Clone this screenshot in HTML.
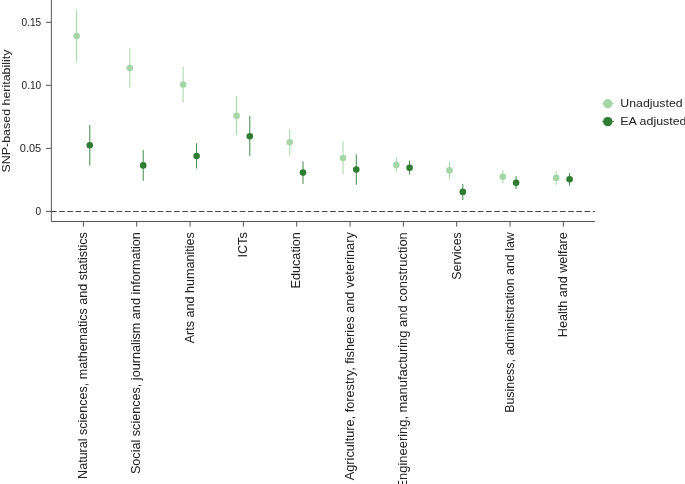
<!DOCTYPE html><html><head><meta charset="utf-8"><title>SNP-based heritability</title>
<style>html,body{margin:0;padding:0;background:#fff;overflow:hidden}svg{display:block}text{font-family:"Liberation Sans",Arial,sans-serif;fill:#222222}</style></head><body>
<svg width="685" height="484" viewBox="0 0 685 484">
<rect width="685" height="484" fill="#fff"/>
<g stroke="#555555" stroke-width="1" fill="none">
<path d="M51.35 0V221.5H594.9" stroke-linejoin="miter"/>
<path d="M46 22.3H51.4"/>
<path d="M46 85.3H51.4"/>
<path d="M46 148.4H51.4"/>
<path d="M46 211.4H51.4"/>
<path d="M83.40 221.5V226.6"/>
<path d="M136.73 221.5V226.6"/>
<path d="M190.06 221.5V226.6"/>
<path d="M243.39 221.5V226.6"/>
<path d="M296.72 221.5V226.6"/>
<path d="M350.05 221.5V226.6"/>
<path d="M403.38 221.5V226.6"/>
<path d="M456.71 221.5V226.6"/>
<path d="M510.04 221.5V226.6"/>
<path d="M563.37 221.5V226.6"/>
<path d="M50.9 211.45H594.9" stroke-dasharray="5.7 2.51" stroke="#484848" stroke-width="1.1"/>
</g>
<text x="41.2" y="25.9" font-size="10.1" text-anchor="end">0.15</text>
<text x="41.2" y="88.8" font-size="10.1" text-anchor="end">0.10</text>
<text x="41.2" y="152.0" font-size="10.1" text-anchor="end" textLength="21.4" lengthAdjust="spacingAndGlyphs">0.05</text>
<text x="41.2" y="215.0" font-size="10.1" text-anchor="end">0</text>
<text transform="translate(9.5 111.0) rotate(-90)" font-size="11.8" text-anchor="middle" textLength="123" lengthAdjust="spacingAndGlyphs">SNP-based heritability</text>
<g stroke="#a5d6a7" stroke-width="1" fill="#a5d6a7">
<path d="M76.6 10.3V61.7"/><circle cx="76.6" cy="36.0" r="3.3" stroke="none"/>
<path d="M129.8 48.3V87.5"/><circle cx="129.8" cy="68.1" r="3.3" stroke="none"/>
<path d="M183.1 66.6V102.7"/><circle cx="183.1" cy="84.6" r="3.3" stroke="none"/>
<path d="M236.6 96.2V135.1"/><circle cx="236.6" cy="115.8" r="3.3" stroke="none"/>
<path d="M289.7 129.1V155.6"/><circle cx="289.7" cy="142.3" r="3.3" stroke="none"/>
<path d="M343.0 141.6V174.0"/><circle cx="343.0" cy="158.0" r="3.3" stroke="none"/>
<path d="M396.3 157.5V171.8"/><circle cx="396.3" cy="164.9" r="3.3" stroke="none"/>
<path d="M449.5 161.3V179.5"/><circle cx="449.5" cy="170.4" r="3.3" stroke="none"/>
<path d="M502.8 170.0V183.5"/><circle cx="502.8" cy="176.7" r="3.3" stroke="none"/>
<path d="M556.2 171.0V184.8"/><circle cx="556.2" cy="177.9" r="3.3" stroke="none"/>
</g>
<g stroke="#43894a" stroke-width="1" fill="#2e7d32">
<path d="M89.8 125.0V165.6"/><circle cx="89.8" cy="145.2" r="3.3" stroke="none"/>
<path d="M143.2 150.1V180.8"/><circle cx="143.2" cy="165.4" r="3.3" stroke="none"/>
<path d="M196.6 143.2V168.6"/><circle cx="196.6" cy="156.0" r="3.3" stroke="none"/>
<path d="M249.8 116.0V155.9"/><circle cx="249.8" cy="136.3" r="3.3" stroke="none"/>
<path d="M303.0 161.3V183.9"/><circle cx="303.0" cy="172.6" r="3.3" stroke="none"/>
<path d="M356.3 154.3V184.7"/><circle cx="356.3" cy="169.6" r="3.3" stroke="none"/>
<path d="M409.6 160.6V174.7"/><circle cx="409.6" cy="167.7" r="3.3" stroke="none"/>
<path d="M462.8 183.9V200.0"/><circle cx="462.8" cy="191.9" r="3.3" stroke="none"/>
<path d="M516.1 176.2V189.0"/><circle cx="516.1" cy="182.7" r="3.3" stroke="none"/>
<path d="M569.6 173.0V185.6"/><circle cx="569.6" cy="179.3" r="3.3" stroke="none"/>
</g>
<text transform="translate(87.10 232.2) rotate(-90)" font-size="12.4" text-anchor="end" textLength="246.7" lengthAdjust="spacingAndGlyphs">Natural sciences, mathematics and statistics</text>
<text transform="translate(140.43 232.2) rotate(-90)" font-size="12.4" text-anchor="end" textLength="241.9" lengthAdjust="spacingAndGlyphs">Social sciences, journalism and information</text>
<text transform="translate(193.76 232.2) rotate(-90)" font-size="12.4" text-anchor="end" textLength="111.1" lengthAdjust="spacingAndGlyphs">Arts and humanities</text>
<text transform="translate(247.09 232.2) rotate(-90)" font-size="12.4" text-anchor="end" textLength="25.4" lengthAdjust="spacingAndGlyphs">ICTs</text>
<text transform="translate(300.42 232.2) rotate(-90)" font-size="12.4" text-anchor="end" textLength="56.3" lengthAdjust="spacingAndGlyphs">Education</text>
<text transform="translate(353.75 232.2) rotate(-90)" font-size="12.4" text-anchor="end" textLength="248.0" lengthAdjust="spacingAndGlyphs">Agriculture, forestry, fisheries and veterinary</text>
<text transform="translate(407.08 232.2) rotate(-90)" font-size="12.4" text-anchor="end" textLength="256.3" lengthAdjust="spacingAndGlyphs">Engineering, manufacturing and construction</text>
<text transform="translate(461.06 232.2) rotate(-90)" font-size="12.4" text-anchor="end" textLength="47.5" lengthAdjust="spacingAndGlyphs">Services</text>
<text transform="translate(513.74 232.2) rotate(-90)" font-size="12.4" text-anchor="end" textLength="180.6" lengthAdjust="spacingAndGlyphs">Business, administration and law</text>
<text transform="translate(567.07 232.2) rotate(-90)" font-size="12.4" text-anchor="end" textLength="105.0" lengthAdjust="spacingAndGlyphs">Health and welfare</text>
<path d="M602.2 103.7H613.9" stroke="#a5d6a7" stroke-width="1"/><circle cx="607.8" cy="103.7" r="4.7" fill="#a5d6a7"/>
<text transform="translate(620.3 107.0)" font-size="11.4" textLength="62.3" lengthAdjust="spacingAndGlyphs">Unadjusted</text>
<path d="M602.2 121.6H613.9" stroke="#2e7d32" stroke-width="1"/><circle cx="607.8" cy="121.6" r="4.7" fill="#2e7d32"/>
<text transform="translate(620.3 125.0)" font-size="11.4" textLength="66.2" lengthAdjust="spacingAndGlyphs">EA adjusted</text>
</svg></body></html>
